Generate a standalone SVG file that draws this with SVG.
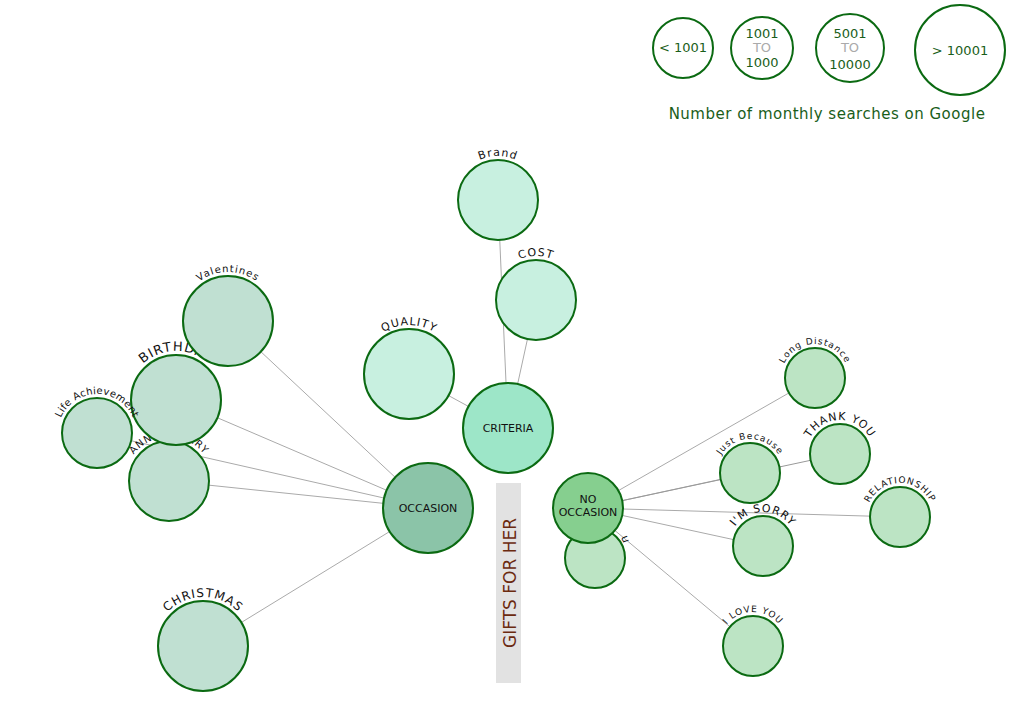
<svg xmlns="http://www.w3.org/2000/svg" width="1011" height="721" viewBox="0 0 1011 721">
<style>
.n{stroke:#0b6a12;stroke-width:2}
.lk{stroke:#aaa;stroke-width:1;fill:none}
.lb{font-family:"DejaVu Sans",sans-serif;font-size:11px;fill:#111;letter-spacing:1px}
.c{font-family:"DejaVu Sans",sans-serif;font-size:11px;fill:#111;text-anchor:middle}
.lg{font-family:"DejaVu Sans",sans-serif;font-size:13px;fill:#1a5e1a;text-anchor:middle}
</style>
<defs>
<path id="pBrand" d="M454,200 A44,44 0 0 1 542,200"/>
<path id="pCost" d="M492,300 A44,44 0 0 1 580,300"/>
<path id="pQual" d="M360,374 A49,49 0 0 1 458,374"/>
<path id="pVal" d="M179,321 A49,49 0 0 1 277,321"/>
<path id="pBirth" d="M127,400 A49,49 0 0 1 225,400"/>
<path id="pLife" d="M58,433 A39,39 0 0 1 136,433"/>
<path id="pAnn" d="M125,481 A44,44 0 0 1 213,481"/>
<path id="pXmas" d="M154,646 A49,49 0 0 1 252,646"/>
<path id="pLong" d="M781,378 A34,34 0 0 1 849,378"/>
<path id="pJust" d="M716,473 A34,34 0 0 1 784,473"/>
<path id="pThank" d="M806,454 A34,34 0 0 1 874,454"/>
<path id="pRel" d="M866,517 A34,34 0 0 1 934,517"/>
<path id="pSorry" d="M729,546 A34,34 0 0 1 797,546"/>
<path id="pLove" d="M719,646 A34,34 0 0 1 787,646"/>
</defs>
<rect width="1011" height="721" fill="#fff"/>
<g id="connectors">
<line class="lk" x1="428" y1="508" x2="228" y2="321"/>
<line class="lk" x1="428" y1="508" x2="176" y2="400"/>
<line class="lk" x1="428" y1="508" x2="97" y2="433"/>
<line class="lk" x1="428" y1="508" x2="169" y2="481"/>
<line class="lk" x1="428" y1="508" x2="203" y2="646"/>
<line class="lk" x1="508" y1="428" x2="498" y2="200"/>
<line class="lk" x1="508" y1="428" x2="536" y2="300"/>
<line class="lk" x1="508" y1="428" x2="409" y2="374"/>
<line class="lk" x1="588" y1="508" x2="815" y2="378"/>
<line class="lk" x1="588" y1="508" x2="750" y2="473"/>
<line class="lk" x1="588" y1="508" x2="840" y2="454" style="stroke:#999"/>
<line class="lk" x1="588" y1="508" x2="900" y2="517"/>
<line class="lk" x1="588" y1="508" x2="763" y2="546"/>
<line class="lk" x1="588" y1="508" x2="753" y2="646"/>
<line class="lk" x1="588" y1="508" x2="595" y2="558"/>
</g>
<g id="legend">
<circle cx="683" cy="48" r="30" fill="#fff" class="n"/><text class="lg" x="683" y="52">&lt; 1001</text>
<circle cx="762" cy="48" r="31" fill="#fff" class="n"/><text class="lg" x="762" y="38">1001</text><text class="lg" x="762" y="52" style="fill:#aaa">TO</text><text class="lg" x="762" y="67">1000</text>
<circle cx="850" cy="48" r="34" fill="#fff" class="n"/><text class="lg" x="850" y="38">5001</text><text class="lg" x="850" y="52" style="fill:#aaa">TO</text><text class="lg" x="850" y="69">10000</text>
<circle cx="960" cy="50" r="45" fill="#fff" class="n"/><text class="lg" x="960" y="55">&gt; 10001</text>
<text class="lg" x="827" y="119" style="font-size:15px;letter-spacing:0.5px">Number of monthly searches on Google</text>
</g>
<g id="title"><rect x="496" y="483" width="25" height="200" fill="#e2e2e2"/><text x="516" y="583" transform="rotate(-90 516 583)" style="font-family:'DejaVu Sans',sans-serif;font-size:17px;fill:#6b2a10;text-anchor:middle">GIFTS FOR HER</text></g>
<g id="brand"><circle cx="498" cy="200" r="40" fill="#c8f0e0" class="n"/><text class="lb"><textPath href="#pBrand" startOffset="50%" text-anchor="middle">Brand</textPath></text></g>
<g id="cost"><circle cx="536" cy="300" r="40" fill="#c8f0e0" class="n"/><text class="lb"><textPath href="#pCost" startOffset="50%" text-anchor="middle">COST</textPath></text></g>
<g id="quality"><circle cx="409" cy="374" r="45" fill="#c8f0e0" class="n"/><text class="lb"><textPath href="#pQual" startOffset="50%" text-anchor="middle">QUALITY</textPath></text></g>
<g id="anniversary"><circle cx="169" cy="481" r="40" fill="#c0e0d2" class="n"/><text class="lb" style="font-size:10px"><textPath href="#pAnn" startOffset="50%" text-anchor="middle">ANNIVERSARY</textPath></text></g>
<g id="birthday"><text class="lb" style="font-size:13px"><textPath href="#pBirth" startOffset="50%" text-anchor="middle">BIRTHDAY</textPath></text><circle cx="176" cy="400" r="45" fill="#c0e0d2" class="n"/></g>
<g id="valentines"><circle cx="228" cy="321" r="45" fill="#c0e0d2" class="n"/><text class="lb" style="font-size:10px"><textPath href="#pVal" startOffset="50%" text-anchor="middle">Valentines</textPath></text></g>
<g id="life"><circle cx="97" cy="433" r="35" fill="#c0e0d2" class="n"/><text class="lb" style="font-size:10px;letter-spacing:0.3px"><textPath href="#pLife" startOffset="50%" text-anchor="middle">Life Achievement</textPath></text></g>
<g id="christmas"><circle cx="203" cy="646" r="45" fill="#c0e0d2" class="n"/><text class="lb" style="font-size:12px"><textPath href="#pXmas" startOffset="50%" text-anchor="middle">CHRISTMAS</textPath></text></g>
<g id="occasion"><circle cx="428" cy="508" r="45" fill="#8bc4a8" class="n"/><text class="c" x="428" y="512">OCCASION</text></g>
<g id="criteria"><circle cx="508" cy="428" r="45" fill="#9de6c8" class="n"/><text class="c" x="508" y="432">CRITERIA</text></g>
<g id="hidden"><circle cx="595" cy="558" r="30" fill="#bce4c4" class="n"/><text class="lb" x="621" y="537" transform="rotate(70 621 537)">u</text></g>
<g id="nooccasion"><circle cx="588" cy="508" r="35" fill="#86cf8f" class="n"/><text class="c" x="588" y="503">NO</text><text class="c" x="588" y="516">OCCASION</text></g>
<g id="long"><circle cx="815" cy="378" r="30" fill="#bce4c4" class="n"/><text class="lb" style="font-size:9px"><textPath href="#pLong" startOffset="50%" text-anchor="middle">Long Distance</textPath></text></g>
<g id="just"><circle cx="750" cy="473" r="30" fill="#bce4c4" class="n"/><text class="lb" style="font-size:9px"><textPath href="#pJust" startOffset="50%" text-anchor="middle">Just Because</textPath></text></g>
<g id="thank"><circle cx="840" cy="454" r="30" fill="#bce4c4" class="n"/><text class="lb"><textPath href="#pThank" startOffset="50%" text-anchor="middle">THANK YOU</textPath></text></g>
<g id="rel"><circle cx="900" cy="517" r="30" fill="#bce4c4" class="n"/><text class="lb" style="font-size:9px"><textPath href="#pRel" startOffset="50%" text-anchor="middle">RELATIONSHIP</textPath></text></g>
<g id="sorry"><circle cx="763" cy="546" r="30" fill="#bce4c4" class="n"/><text class="lb"><textPath href="#pSorry" startOffset="50%" text-anchor="middle">I'M SORRY</textPath></text></g>
<g id="love"><circle cx="753" cy="646" r="30" fill="#bce4c4" class="n"/><text class="lb" style="font-size:9px"><textPath href="#pLove" startOffset="50%" text-anchor="middle">I LOVE YOU</textPath></text></g>
</svg>
